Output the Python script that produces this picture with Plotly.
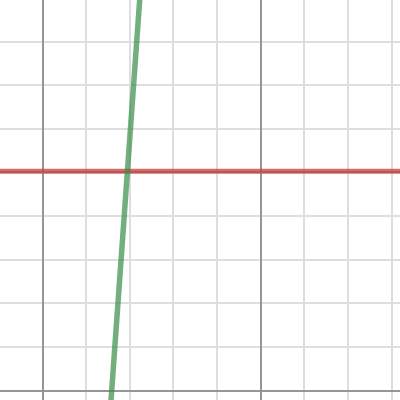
import plotly.graph_objects as go

# in grid units (major grid every 5)
red_x = [-2, 10]
red_y = [5.03, 5.03]

green_x = [1.547, 2.264]
green_y = [-0.5, 9.5]

fig = go.Figure()
fig.add_trace(go.Scatter(x=red_x, y=red_y, mode='lines',
                         line=dict(color='rgba(199,68,64,0.78)', width=5)))
fig.add_trace(go.Scatter(x=green_x, y=green_y, mode='lines',
                         line=dict(color='rgba(56,140,70,0.7)', width=5.5)))

axis_style = dict(dtick=5, showgrid=True, gridcolor='rgb(150,150,150)', gridwidth=1.5,
                  minor=dict(dtick=1, showgrid=True, gridcolor='rgb(222,222,222)', gridwidth=1.5),
                  zeroline=False, showticklabels=False, ticks='', showline=False)

fig.update_xaxes(range=[-0.979, 8.195], tick0=0, **axis_style)
fig.update_yaxes(range=[-0.213, 8.951], tick0=0, **axis_style)
fig.update_layout(width=400, height=400, margin=dict(l=0, r=0, t=0, b=0),
                  plot_bgcolor='white', paper_bgcolor='white', showlegend=False)
fig.write_html("out.html", config={'displayModeBar': False},
               post_script="document.body.style.margin='0';document.body.style.overflow='hidden';")
